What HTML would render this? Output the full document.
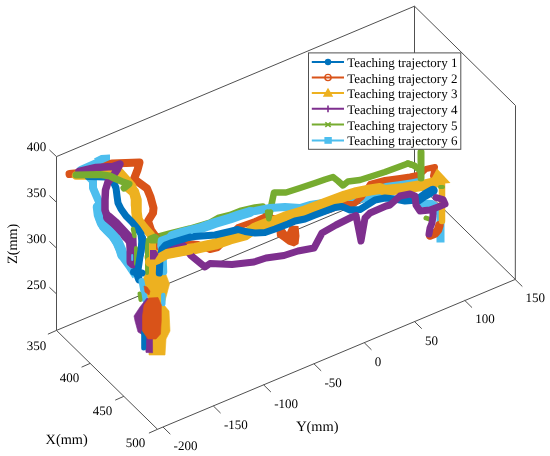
<!DOCTYPE html>
<html><head><meta charset="utf-8"><style>
html,body{margin:0;padding:0;background:#fff;}
body{width:550px;height:456px;overflow:hidden;}
svg{display:block;}
text{font-family:"Liberation Serif","Times New Roman",serif;fill:#000;text-rendering:geometricPrecision;}
</style></head><body>
<svg width="550" height="456" viewBox="0 0 550 456">
<rect width="550" height="456" fill="#fff"/>
<g>
<g stroke="#505050" stroke-width="1" fill="none">
<line x1="56.5" y1="156.6" x2="56.5" y2="330.4"/>
<line x1="56.5" y1="156.6" x2="414.5" y2="6.2"/>
<line x1="414.5" y1="6.2" x2="414.5" y2="180.4"/>
<line x1="414.5" y1="6.2" x2="515.5" y2="105.5"/>
<line x1="515.5" y1="105.5" x2="515.3" y2="279.4"/>
<line x1="515.3" y1="279.4" x2="157.5" y2="429.3"/>
<line x1="56.5" y1="330.4" x2="157.5" y2="429.3"/>
<line x1="56.5" y1="330.4" x2="414.5" y2="180.4"/>
<line x1="414.5" y1="180.4" x2="515.3" y2="279.4"/>
<line x1="56.5" y1="156.6" x2="49.4" y2="149.9"/>
<line x1="56.5" y1="202.3" x2="49.4" y2="195.6"/>
<line x1="56.5" y1="248.1" x2="49.4" y2="241.4"/>
<line x1="56.5" y1="293.95" x2="49.4" y2="287.25"/>
<line x1="56.5" y1="330.4" x2="47.9" y2="334.2"/>
<line x1="90.17" y1="363.37" x2="81.57" y2="367.17"/>
<line x1="123.84" y1="396.34" x2="115.24" y2="400.14"/>
<line x1="157.51" y1="429.31" x2="148.91" y2="433.11"/>
<line x1="163" y1="427" x2="170.3" y2="434.2"/>
<line x1="213.29" y1="405.9" x2="220.59" y2="413.1"/>
<line x1="263.58" y1="384.8" x2="270.88" y2="392"/>
<line x1="313.87" y1="363.7" x2="321.17" y2="370.9"/>
<line x1="364.16" y1="342.6" x2="371.46" y2="349.8"/>
<line x1="414.45" y1="321.5" x2="421.75" y2="328.7"/>
<line x1="464.74" y1="300.4" x2="472.04" y2="307.6"/>
<line x1="515.03" y1="279.3" x2="522.33" y2="286.5"/>
</g>
<g fill="none" stroke-linecap="round" stroke-linejoin="round">
<polyline points="150,242 157,237 170,233.5 190,228.5 210,222.5 218,218 230,215 240,211 255,207.5 263,206.5 268.5,219 274,192.5 286,192.5 300,188 315,183 325,179.5 333,177 338,181 343,185.5 348,181.5 360,180 385,172 408,163.5 414,165.5" stroke="#77AC30" stroke-width="6.5"/>
<polyline points="109.5,158.5 99,162 81,170 88,176 93,181 93,188 96,195 99.5,203 100,210 99.5,219 103,227 112,236 117,243 120,250 122,256 130,267 136,276" stroke="#4DBEEE" stroke-width="8" stroke-linecap="butt"/>
<polygon points="94,158.5 101,155 110,154.5 110,161.5 97,163" fill="#4DBEEE" stroke="none"/>
<polyline points="98,207 99,215 102,223 108,230 114,236 118,243 121,250 122.5,255" stroke="#4DBEEE" stroke-width="10.5"/>
<polyline points="172,236 183,232.5 195,229.5 201,228 215,223 230,218.5 240,215 250,212" stroke="#4DBEEE" stroke-width="10"/>
<polyline points="250,211.5 255,211 270,208 285,207 300,208 310,205 330,202 350,201 360,199 370,197 380,192 385,184.5 400,184 404,181 419,180.5" stroke="#4DBEEE" stroke-width="8"/>
<polyline points="424,203.5 432,204 437,208 440.5,214 440.5,226 440.5,238.5" stroke="#4DBEEE" stroke-width="8" stroke-linecap="square"/>
<polyline points="69.5,174 90,172 104,167 112,163.5 139.5,162.5 137.5,170 134,179 147,188.5 150.5,197 153.5,208 153,213 148,221 151,230 156,237 157,246" stroke="#D95319" stroke-width="8"/>
<polyline points="155,246 170,244 186,243 198,244 210,250 218,248 238,227 255,221 266,216 283,221 300,219 330,210 344,204 354,204 362,197 370,184 385,180 400,178 410,176.5 420,174.5 426,169 435,167 433,176" stroke="#D95319" stroke-width="6"/>
<polygon points="276.5,231 284,228 287,232 290,225.5 298.5,226 299.5,236 298.5,244 294,246.5 288,244.5 282,240 277,236.5" fill="#D95319" stroke="none"/>
<polyline points="439.5,225 438,230 435,233.5 430,235.5" stroke="#D95319" stroke-width="8.5"/>
<polyline points="76,175.5 95,175.5 108,172 118,170 126,179 132,186 135,195 135,205 137,218 144,227 151,235 153,245" stroke="#EDB120" stroke-width="8.5"/>
<polyline points="127,186 134,192 136.5,200 136.5,212 137.5,220 141,226" stroke="#EDB120" stroke-width="10.5"/>
<polyline points="150,257 165,253 180,250.5 195,248.5 215,244.2 230,239 245,235 255,228 265,224 275,221 285,217 295,214 305,211 325,203.5 345,196 355,193 370,190 380,188.5 385,190.5 404,188.4 423,185.3 437,182" stroke="#EDB120" stroke-width="11"/>
<polyline points="442,183 442,200 442,221" stroke="#EDB120" stroke-width="6.5"/>
<polygon points="437,168.5 450.5,183 428,185" fill="#EDB120" stroke="none"/>
<polyline points="408,163.5 414,165.5 419.5,170" stroke="#77AC30" stroke-width="6.5"/>
<polyline points="421,178 421,152" stroke="#77AC30" stroke-width="7"/>
<polyline points="440,187 443,187" stroke="#77AC30" stroke-width="4"/>
<polyline points="267.6,212 268.8,218.8 270.4,212" stroke="#77AC30" stroke-width="5.5"/>
<polyline points="426,218 429,219" stroke="#77AC30" stroke-width="5"/>
<polyline points="88,176.5 106,177 113,181 116,188 117,196 118,203 121,209 126,216 132,222 137,228 141,234 142,242 141,252 138,262 136,270 138,278" stroke="#0072BD" stroke-width="7"/>
<polyline points="172,241.5 185,238 195,236.5 215,235 230,231.5 238,229.5 245,231.5 255,233 265,232.5 275,229 288,224 295,221 305,219 315,215 335,207.5 342,206.5 350,210 360,209.5 375,200 385,198 395,199 405,201 418,200" stroke="#0072BD" stroke-width="7"/>
<polyline points="418,200 425,195 433,190.5" stroke="#0072BD" stroke-width="9.5"/>
<polyline points="79,171.5 96,167.5 113,166.5 120,164 117,170 113,176 108,182 105.5,190 105,200 105,210 108,219 115,225 121,230 125,237 129,240 132,244 132,252 132.5,262" stroke="#7E2F8E" stroke-width="7.5"/>
<polyline points="108,217 115,223 121,229.5 127,236 131,242 131.5,250 131.5,262" stroke="#7E2F8E" stroke-width="10"/>
<polyline points="150,255 158,251 170,246 182,244 191,255.5 205,267 210,263.5 232,264.5 254,262 266,258 284,255.5 298,251 314,248 322,233 336,225 352,217 356,215.5 361,241 365,218 370,213 386,206 390,205 400,196 410,194 415,196 416,205 420,211 430,210 438,207 445,204 443,199.5 436,197.5" stroke="#7E2F8E" stroke-width="7"/>
<polyline points="433,211 433,216 432,223 430,228 429,234" stroke="#7E2F8E" stroke-width="7"/>
<polyline points="76,175 100,174.5 110,176 115,178.5 122,181.5 129,184 124,188" stroke="#77AC30" stroke-width="7"/>
</g>
<polygon points="145.5,240 158,240 158,262 165,272 169.5,284 166,297 164,305 169,311 170,331 166,339 165,355 149,355 149,339 150,320 150,300 143,292 143,280 146,272 145.5,262" fill="#EDB120" stroke="#EDB120" stroke-width="0.6" stroke-linejoin="round"/>
<polyline points="132,238 132.5,252 133,264" fill="none" stroke="#7E2F8E" stroke-width="9" stroke-linecap="round" stroke-linejoin="round"/>
<polyline points="133,229 134.5,236" fill="none" stroke="#77AC30" stroke-width="4.5" stroke-linecap="round" stroke-linejoin="round"/>
<polyline points="136,248 136,264" fill="none" stroke="#77AC30" stroke-width="4" stroke-linecap="round" stroke-linejoin="round"/>
<polyline points="147,240 147,273" fill="none" stroke="#77AC30" stroke-width="4" stroke-linecap="round" stroke-linejoin="round"/>
<polyline points="142.5,238 141,250 139.5,260 138,270 139,280" fill="none" stroke="#0072BD" stroke-width="7" stroke-linecap="round" stroke-linejoin="round"/>
<polyline points="133.5,272 142,273" fill="none" stroke="#0072BD" stroke-width="7" stroke-linecap="round" stroke-linejoin="round"/>
<polyline points="132.2,255 132.2,260" fill="none" stroke="#4DBEEE" stroke-width="2" stroke-linecap="round" stroke-linejoin="round"/>
<polyline points="157.5,242.5 157.5,248.5" fill="none" stroke="#D95319" stroke-width="3" stroke-linecap="round" stroke-linejoin="round"/>
<polyline points="141.5,281 143.5,292 145,300" fill="none" stroke="#4DBEEE" stroke-width="6" stroke-linecap="round" stroke-linejoin="round"/>
<polyline points="139.5,293.5 140.5,300" fill="none" stroke="#77AC30" stroke-width="4" stroke-linecap="round" stroke-linejoin="round"/>
<polygon points="144,286 147,287 150,291 149,295 145,292" fill="#D95319" stroke="#D95319" stroke-width="0.6" stroke-linejoin="round"/>
<polyline points="163.3,295 163.3,304" fill="none" stroke="#4DBEEE" stroke-width="4.5" stroke-linecap="round" stroke-linejoin="round"/>
<polygon points="147,298 151,300 146,316 146,333 152.5,336 152.6,352.8 146,352.5 144.5,336 138,332 135,321 134,316 140,307" fill="#7E2F8E" stroke="#7E2F8E" stroke-width="0.6" stroke-linejoin="round"/>
<polyline points="143.7,332 143.7,348" fill="none" stroke="#0072BD" stroke-width="5" stroke-linecap="round" stroke-linejoin="round"/>
<polygon points="149,298 158,297.5 161.3,305 161.3,320 160.5,334 156,339 148,339 142.5,331 142.5,316 144,305" fill="#D95319" stroke="#D95319" stroke-width="0.6" stroke-linejoin="round"/>
<polyline points="150,238 155,236 158,238 157,241 151,241" fill="none" stroke="#77AC30" stroke-width="5" stroke-linecap="round" stroke-linejoin="round"/>
<polyline points="164,272 163.5,258 160.5,246 161,240 171,236.3 190,231.5" fill="none" stroke="#4DBEEE" stroke-width="6.5" stroke-linecap="round" stroke-linejoin="round"/>
<polyline points="159.3,273 160,258 162,249 165.5,245 172,242.5 190,237" fill="none" stroke="#0072BD" stroke-width="7" stroke-linecap="round" stroke-linejoin="round"/>
<polyline points="150,262 158,259 167,254 180,251.5 190,249.5" fill="none" stroke="#EDB120" stroke-width="10" stroke-linecap="round" stroke-linejoin="round"/>
<polygon points="150,250 156,250 158.5,254 155,259.5 150,259.5" fill="#7E2F8E"/>
<g font-size="13">
<text x="46.3" y="151.2" text-anchor="end">400</text>
<text x="46.3" y="197.1" text-anchor="end">350</text>
<text x="46.3" y="243.1" text-anchor="end">300</text>
<text x="46.3" y="289.1" text-anchor="end">250</text>
<text x="46.2" y="349.8" text-anchor="end">350</text>
<text x="79.2" y="382.3" text-anchor="end">400</text>
<text x="112.2" y="414.9" text-anchor="end">450</text>
<text x="145.3" y="446.9" text-anchor="end">500</text>
<text x="173.6" y="450.0">-200</text>
<text x="223.9" y="428.9">-150</text>
<text x="274.2" y="407.8">-100</text>
<text x="324.5" y="386.7">-50</text>
<text x="374.8" y="365.6">0</text>
<text x="425.1" y="344.5">50</text>
<text x="475.3" y="323.4">100</text>
<text x="525.6" y="302.3">150</text>
</g>
<text x="45.6" y="443.9" font-size="14.3">X(mm)</text>
<text x="296.2" y="431" font-size="14.4">Y(mm)</text>
<text transform="translate(17.1,263.9) rotate(-90)" font-size="14.2">Z(mm)</text>
<g font-size="13">
<rect x="308.5" y="52.9" width="152.3" height="96.4" fill="#fff" stroke="#505050" stroke-width="1"/>
<line x1="311.8" y1="62.0" x2="344" y2="62.0" stroke="#0072BD" stroke-width="2"/>
<circle cx="328" cy="62.0" r="3.2" fill="#0072BD"/>
<text x="347.2" y="67.0">Teaching trajectory 1</text>
<line x1="311.8" y1="77.5" x2="344" y2="77.5" stroke="#D95319" stroke-width="2"/>
<circle cx="328" cy="77.5" r="3.1" fill="none" stroke="#D95319" stroke-width="1.4"/>
<text x="347.2" y="82.5">Teaching trajectory 2</text>
<line x1="311.8" y1="93.1" x2="344" y2="93.1" stroke="#EDB120" stroke-width="2"/>
<polygon points="328,87.69999999999999 322.8,96.69999999999999 333.2,96.69999999999999" fill="#EDB120"/>
<text x="347.2" y="98.1">Teaching trajectory 3</text>
<line x1="311.8" y1="108.8" x2="344" y2="108.8" stroke="#7E2F8E" stroke-width="2"/>
<line x1="328" y1="105.39999999999999" x2="328" y2="112.2" stroke="#7E2F8E" stroke-width="1.6"/>
<text x="347.2" y="113.8">Teaching trajectory 4</text>
<line x1="311.8" y1="124.6" x2="344" y2="124.6" stroke="#77AC30" stroke-width="2"/>
<path d="M325.3,122.3 L330.7,126.89999999999999 M325.3,126.89999999999999 L330.7,122.3" stroke="#77AC30" stroke-width="1.7"/>
<text x="347.2" y="129.6">Teaching trajectory 5</text>
<line x1="311.8" y1="140.4" x2="344" y2="140.4" stroke="#4DBEEE" stroke-width="2"/>
<rect x="324.4" y="137.0" width="7.4" height="6.8" fill="#4DBEEE"/>
<text x="347.2" y="145.4">Teaching trajectory 6</text>
</g>
</g>
</svg>
</body></html>
